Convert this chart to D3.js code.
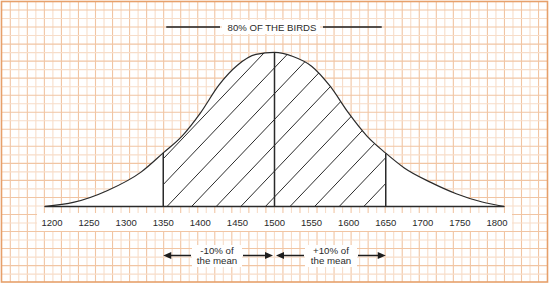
<!DOCTYPE html>
<html>
<head>
<meta charset="utf-8">
<script src="https://cdn.jsdelivr.net/npm/d3@7"></script>
<style>
  body { margin: 0; background: #fff; }
  svg { display: block; }
  text { font-family: "Liberation Sans", Arial, sans-serif; fill: #2a2a2a; }
</style>
</head>
<body>
<svg id="chart" width="550" height="285"></svg>
<script>
// data (bird weights, relative frequency 0-100)
const weights = [1190, 1230, 1275, 1320, 1350, 1375, 1400, 1425, 1450, 1475, 1500,
                 1525, 1550, 1575, 1600, 1625, 1650, 1675, 1710, 1745, 1780, 1810];
const freq =    [0, 2.8, 10.4, 22.3, 34.8, 45.5, 60.6, 78.7, 91.6, 98.6, 100,
                 97.3, 91, 78, 60.5, 45.5, 34.6, 25, 15.8, 8.3, 2.9, 0];
const tickValues = [1200, 1250, 1300, 1350, 1400, 1450, 1500, 1550, 1600, 1650, 1700, 1750, 1800];
const mean = 1500;
const bandLow = 1350, bandHigh = 1650;
const titleText = "80% OF THE BIRDS";
const lowLabel = ["-10% of", "the mean"];
const highLabel = ["+10% of", "the mean"];

const W = 550, H = 285;
const baseY = 206.5;
const svg = d3.select("#chart");

const x = d3.scaleLinear().domain([1200, 1800]).range([52, 497]);
const y = d3.scaleLinear().domain([0, 100]).range([baseY, 52.3]);

const points = weights.map((w, i) => ({ w: w, f: freq[i] }));
const fAt = w => points.find(p => p.w === w).f;

// graph paper background
const grid = svg.append("g");
const step = 8.52;
d3.range(10.3, W - 4, step).forEach((gx, i) => {
    grid.append("line")
        .attr("x1", gx).attr("x2", gx).attr("y1", 2).attr("y2", H - 3)
        .attr("stroke", i % 2 ? "#f7ddc9" : "#f1c5a3")
        .attr("stroke-width", 1.1);
});
d3.range(10, H - 4, step).forEach((gy, i) => {
    grid.append("line")
        .attr("x1", 2).attr("x2", W - 3).attr("y1", gy).attr("y2", gy)
        .attr("stroke", i % 2 ? "#f7ddc9" : "#f1c5a3")
        .attr("stroke-width", 1.1);
});
svg.append("rect")
    .attr("x", 1.5).attr("y", 1.5).attr("width", W - 4).attr("height", H - 4.5)
    .attr("fill", "none").attr("stroke", "#e6a06b").attr("stroke-width", 1.6);

// curve + area
const area = d3.area()
    .x(d => x(d.w)).y0(baseY).y1(d => y(d.f))
    .curve(d3.curveMonotoneX);
const line = d3.line()
    .x(d => x(d.w)).y(d => y(d.f))
    .curve(d3.curveMonotoneX);

const defs = svg.append("defs");
defs.append("clipPath").attr("id", "under-curve")
    .append("path").attr("d", area(points));
defs.append("clipPath").attr("id", "band")
    .append("rect")
    .attr("x", x(bandLow)).attr("y", 0)
    .attr("width", x(bandHigh) - x(bandLow)).attr("height", baseY);

svg.append("path")
    .attr("d", area(points))
    .attr("fill", "#fff");

// hatching between -10% and +10%
const hatch = svg.append("g").attr("clip-path", "url(#band)")
    .append("g").attr("clip-path", "url(#under-curve)");
const slope = 1.05;
d3.range(-6, 12).forEach(k => {
    const x0 = 167 + 24.6 * k;
    hatch.append("line")
        .attr("x1", x0).attr("y1", baseY)
        .attr("x2", x0 + 180).attr("y2", baseY - 180 * slope)
        .attr("stroke", "#2a2a2a").attr("stroke-width", 1);
});

svg.append("path")
    .attr("d", line(points))
    .attr("fill", "none")
    .attr("stroke", "#2a2a2a")
    .attr("stroke-width", 1.2);

// baseline
svg.append("line")
    .attr("x1", x(weights[0])).attr("x2", x(weights[weights.length - 1]))
    .attr("y1", baseY).attr("y2", baseY)
    .attr("stroke", "#2a2a2a").attr("stroke-width", 1.4);

// verticals at band edges and mean
[bandLow, mean, bandHigh].forEach(w => {
    svg.append("line")
        .attr("x1", x(w)).attr("x2", x(w))
        .attr("y1", baseY).attr("y2", y(fAt(w)))
        .attr("stroke", "#2a2a2a").attr("stroke-width", 1.5);
});

// tick labels on a white strip
svg.append("rect")
    .attr("x", 37).attr("y", 213).attr("width", 475).attr("height", 18)
    .attr("fill", "#fff");
svg.append("g").selectAll("text")
    .data(tickValues)
    .enter().append("text")
    .attr("x", d => x(d))
    .attr("y", 225.8)
    .attr("text-anchor", "middle")
    .attr("font-size", "9.5px")
    .text(d => d);

// title with rules either side
svg.append("rect")
    .attr("x", 222).attr("y", 20).attr("width", 98).attr("height", 14)
    .attr("fill", "#fff");
svg.append("text")
    .attr("x", x(mean) - 2.5).attr("y", 30.8)
    .attr("text-anchor", "middle")
    .attr("font-size", "9.6px")
    .text(titleText);
[[x(bandLow) + 3, 220], [323, x(bandHigh) - 4]].forEach(([a, b]) => {
    svg.append("line")
        .attr("x1", a).attr("x2", b).attr("y1", 27).attr("y2", 27)
        .attr("stroke", "#1e1e1e").attr("stroke-width", 1.5);
});

// arrows for +/-10% of the mean
function arrowRow(from, to, labels, boxLeft, boxRight) {
    const ay = 255.5;
    const cx = (boxLeft + boxRight) / 2;
    svg.append("rect")
        .attr("x", boxLeft).attr("y", 245).attr("width", boxRight - boxLeft).attr("height", 22)
        .attr("fill", "#fff");
    labels.forEach((t, i) => {
        svg.append("text")
            .attr("x", cx).attr("y", 254 + i * 10)
            .attr("text-anchor", "middle")
            .attr("font-size", "9.7px")
            .text(t);
    });
    const head = 8, half = 3.6;
    svg.append("line")
        .attr("x1", from + head - 1).attr("x2", boxLeft - 1)
        .attr("y1", ay).attr("y2", ay)
        .attr("stroke", "#1e1e1e").attr("stroke-width", 1.5);
    svg.append("line")
        .attr("x1", boxRight + 1).attr("x2", to - head + 1)
        .attr("y1", ay).attr("y2", ay)
        .attr("stroke", "#1e1e1e").attr("stroke-width", 1.5);
    svg.append("path")
        .attr("d", `M${from},${ay} L${from + head},${ay - half} L${from + head},${ay + half} Z`)
        .attr("fill", "#1e1e1e");
    svg.append("path")
        .attr("d", `M${to},${ay} L${to - head},${ay - half} L${to - head},${ay + half} Z`)
        .attr("fill", "#1e1e1e");
}
arrowRow(x(bandLow), x(mean) - 1.5, lowLabel, 192, 242);
arrowRow(x(mean) + 1.5, x(bandHigh), highLabel, 305, 357);
</script>
</body>
</html>
